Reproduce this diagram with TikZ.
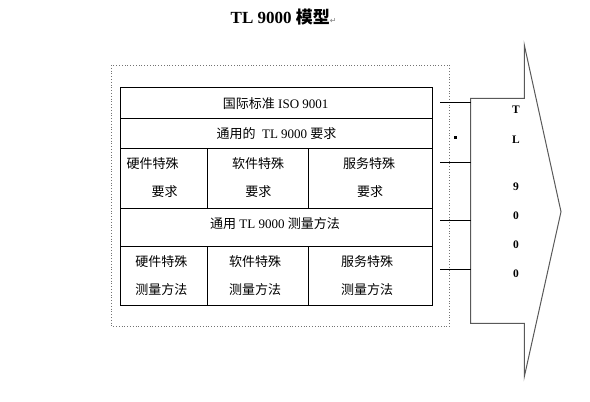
\documentclass[tikz,border=0pt]{standalone}
\usepackage{fontspec}
\setmainfont{Liberation Serif}
\newfontfamily\cjk{Noto Sans CJK SC}
\newfontfamily\symf{DejaVu Sans}
\begin{document}
\begin{tikzpicture}[x=1pt,y=-1pt,
  cell/.style={inner sep=0pt,font=\fontsize{13}{15}\selectfont},
  grid/.style={draw=black,line width=0.8pt},
  arrowshape/.style={draw=black!65,line width=1pt},
  conn/.style={draw=black,line width=0.7pt},
  letter/.style={inner sep=0pt,font=\fontsize{11.5}{12}\selectfont\bfseries}]
\useasboundingbox (0,0) rectangle (590,402);
% title
\node[anchor=west,inner sep=0pt,font=\fontsize{17}{20}\selectfont\bfseries] (title) at (230.5,17)
  {TL 9000 {\cjk 模型}{\symf\mdseries\fontsize{8}{8}\selectfont\color{black!50}↵}};
% dotted frame
\draw[black!55,dotted,line width=0.8pt] (111.7,65) rectangle (449,326.7);
% table
\draw[grid] (120.7,87.7) rectangle (432.3,305.7);
\foreach \y in {118.3,148.3,208.3,246} \draw[grid] (120.7,\y) -- (432.3,\y);
\draw[grid] (207.3,148.3) -- (207.3,208.3);
\draw[grid] (308.3,148.3) -- (308.3,208.3);
\draw[grid] (207.3,246) -- (207.3,305.7);
\draw[grid] (308.3,246) -- (308.3,305.7);
% texts
\node[cell] (r1) at (275.7,103.7) {{\cjk 国际标准} ISO 9001};
\node[cell] (r2) at (276.5,133.7) {{\cjk 通用的}\ \ TL 9000 {\cjk 要求}};
\node[cell,anchor=west] (h1) at (126.3,164) {\cjk 硬件特殊};
\node[cell] (h2) at (164.7,192) {\cjk 要求};
\node[cell] (s1) at (258,164) {\cjk 软件特殊};
\node[cell] (s2) at (258.3,192) {\cjk 要求};
\node[cell] (v1) at (369,164) {\cjk 服务特殊};
\node[cell] (v2) at (370,192) {\cjk 要求};
\node[cell] (r4) at (275,224) {{\cjk 通用}\ TL 9000 {\cjk 测量方法}};
\node[cell] (hm1) at (161.3,261.7) {\cjk 硬件特殊};
\node[cell] (hm2) at (161.3,290) {\cjk 测量方法};
\node[cell] (sm1) at (255,261.7) {\cjk 软件特殊};
\node[cell] (sm2) at (255,290) {\cjk 测量方法};
\node[cell] (vm1) at (367,261.7) {\cjk 服务特殊};
\node[cell] (vm2) at (367,290) {\cjk 测量方法};
% arrow
\draw[arrowshape,line join=miter] (470.7,98.3) -- (524.3,98.3) -- (524.3,45) -- (561,211.7)
  -- (524.3,376.7) -- (524.3,323.3) -- (470.7,323.3) -- cycle;
% connectors
\foreach \i/\y in {1/102.7,2/162.3,3/220.7,4/269.3}{
  \coordinate (ca\i) at (440,\y);
  \coordinate (cb\i) at (470.7,\y);
  \draw[conn] (ca\i) -- (cb\i);
}
% dot
\fill[black] (453.8,136.1) rectangle (456.6,138.9);
% letters
\node[letter] (lT) at (516,110) {T};
\node[letter] (lL) at (516,140) {L};
\node[letter] (l9) at (516,187) {9};
\node[letter] (l0a) at (516,216) {0};
\node[letter] (l0b) at (516,245) {0};
\node[letter] (l0c) at (516,274) {0};
\end{tikzpicture}
\end{document}
